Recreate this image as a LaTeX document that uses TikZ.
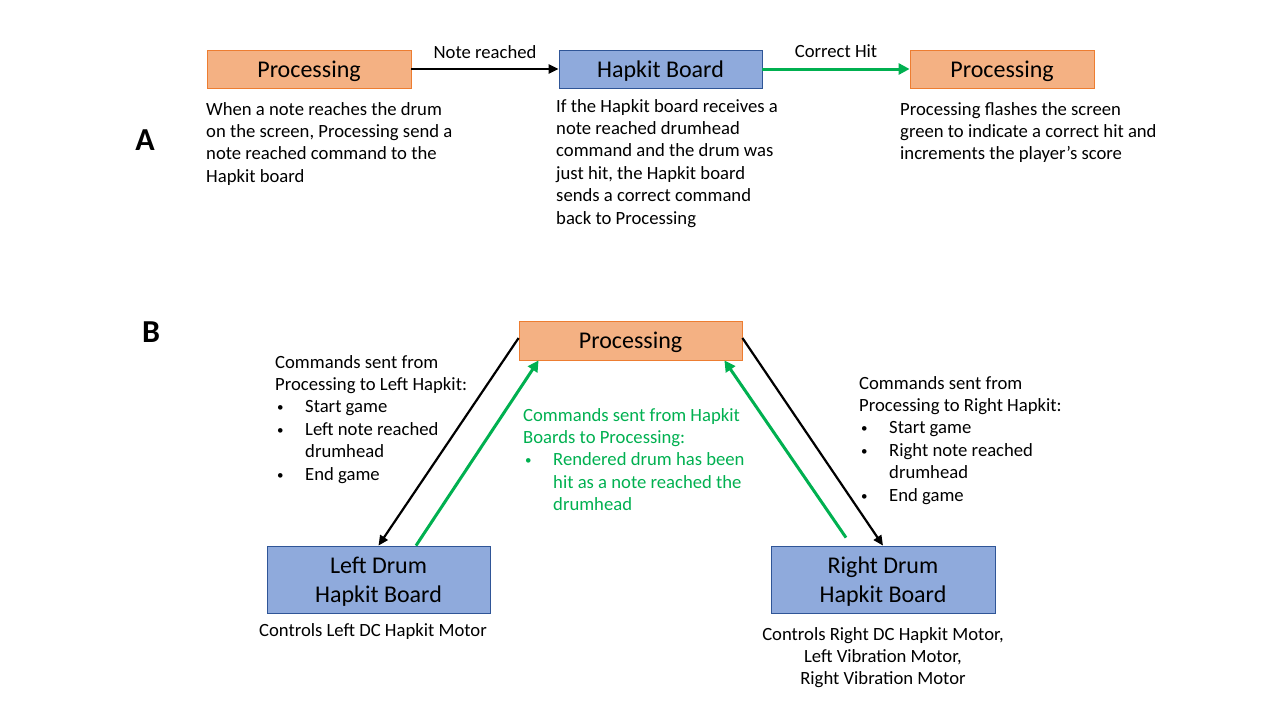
\documentclass[tikz,border=0pt]{standalone}
\usepackage{fontspec}
\setmainfont{Carlito}
\usetikzlibrary{arrows.meta,calc}
\definecolor{orfill}{HTML}{F4B183}
\definecolor{ordraw}{HTML}{ED7D31}
\definecolor{blfill}{HTML}{8FAADC}
\definecolor{bldraw}{HTML}{2F5597}
\definecolor{grn}{HTML}{00B050}
\tikzset{
  body/.style={font=\fontsize{18.67}{22.4}\selectfont, inner sep=0pt, align=left, anchor=north west},
  captext/.style={font=\fontsize{18.67}{22.4}\selectfont, inner sep=0pt, align=center, anchor=north},
  orbox/.style={draw=ordraw, fill=orfill, line width=0.8pt, font=\fontsize{24}{28.8}\selectfont, inner sep=0pt, text depth=0pt},
  blbox/.style={draw=bldraw, fill=blfill, line width=0.8pt, font=\fontsize{24}{28.8}\selectfont, inner sep=0pt, align=center, text depth=0pt},
  blk/.style={draw=black, line width=2.2pt, -{Triangle[length=10pt,width=9pt]}},
  grarrow/.style={draw=grn, line width=3pt, -{Triangle[length=11pt,width=11pt]}},
  lbl/.style={font=\fontsize{18.67}{22.4}\selectfont, inner sep=0pt},
  big/.style={font=\fontsize{32}{38}\selectfont\bfseries, inner sep=0pt}
}
\newcommand{\bul}{\hspace*{2pt}\makebox[28pt][l]{\raisebox{1pt}{\fontsize{13}{13}\selectfont\textbullet}}}
\newcommand{\ind}{\hspace*{30pt}}
\begin{document}
\begin{tikzpicture}[x=1pt,y=-1pt]
\useasboundingbox (0,0) rectangle (1280,720);
% ---------- A ----------
\node[big] (labA) at (145,140) {A};
\node[orbox, minimum width=204pt, minimum height=38pt] (p1) at (309,69) {Processing};
\node[blbox, minimum width=203pt, minimum height=38pt] (hb) at (660.5,69) {Hapkit Board};
\node[orbox, minimum width=184pt, minimum height=38pt] (p3) at (1002,69) {Processing};
\draw[blk] (p1.east) -- (hb.west) node[lbl, midway, above=9pt] (l1) {Note reached};
\draw[grarrow] (hb.east) -- (p3.west) node[lbl, midway, above=10pt] (l2) {Correct Hit};
\node[body] (t1) at (206,102) {When a note reaches the drum\\on the screen, Processing send a\\note reached command to the\\Hapkit board};
\node[body] (t2) at (556,99) {If the Hapkit board receives a\\note reached drumhead\\command and the drum was\\just hit, the Hapkit board\\sends a correct command\\back to Processing};
\node[body] (t3) at (900,102) {Processing flashes the screen\\green to indicate a correct hit and\\increments the player’s score};
% ---------- B ----------
\node[big] (labB) at (151,332) {B};
\node[orbox, minimum width=223pt, minimum height=39pt] (pb) at (630.5,340.5) {Processing};
\node[blbox, minimum width=223pt, minimum height=67pt] (ld) at (378.5,579.5) {Left Drum\\Hapkit Board};
\node[blbox, minimum width=224pt, minimum height=67pt] (rd) at (883,579.5) {Right Drum\\Hapkit Board};
\coordinate (bs) at ($(rd.north)+(-37,-8)$);
\draw[blk] ([yshift=2.5pt]pb.west) -- (ld.north);
\draw[grarrow] ([xshift=37.5pt]ld.north) -- ([xshift=20pt]pb.south west);
\draw[blk] ([yshift=2.5pt]pb.east) -- (rd.north);
\draw[grarrow] (bs) -- ([xshift=-18pt]pb.south east);
\node[body] (tl) at (275,355) {Commands sent from\\Processing to Left Hapkit:\\\bul Start game\\\bul Left note reached\\\ind drumhead\\\bul End game};
\node[body, text=grn] (tg) at (523,408) {Commands sent from Hapkit\\Boards to Processing:\\\bul Rendered drum has been\\\ind hit as a note reached the\\\ind drumhead};
\node[body] (tr) at (859,376) {Commands sent from\\Processing to Right Hapkit:\\\bul Start game\\\bul Right note reached\\\ind drumhead\\\bul End game};
\node[captext] (cl) at (373,623) {Controls Left DC Hapkit Motor};
\node[captext] (cr) at (883,627) {Controls Right DC Hapkit Motor,\\Left Vibration Motor,\\Right Vibration Motor};
\end{tikzpicture}
\end{document}
